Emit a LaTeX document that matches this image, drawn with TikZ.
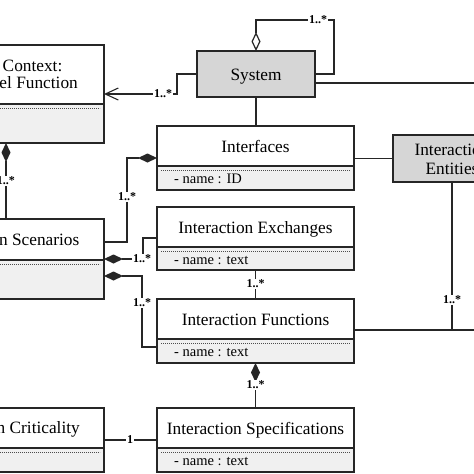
\documentclass[tikz,border=0pt]{standalone}
\usepackage{fontspec}
\setmainfont{Liberation Serif}
\usetikzlibrary{arrows.meta}
\begin{document}
\begin{tikzpicture}[x=1pt,y=-1pt,
  box/.style={draw=black!85, line width=1.3pt, inner sep=0pt, outer sep=0pt},
  ttl/.style={box, fill=white, font=\fontsize{17.3}{20}\selectfont, text height=13pt, text depth=1pt},
  attr/.style={box, fill=black!6},
  cls/.style={box, fill=black!16, font=\fontsize{17.3}{18.7}\selectfont, align=center},
  atxt/.style={font=\fontsize{14.5}{16}\selectfont, anchor=mid west, inner sep=0pt},
  ltxt/.style={font=\fontsize{17.3}{20}\selectfont, anchor=mid east, inner sep=0pt},
  mult/.style={font=\fontsize{12}{12}\selectfont\bfseries, fill=white, inner sep=1pt},
  conn/.style={draw=black!85, line width=1.2pt},
  dsh/.style={draw=black!70, line width=0.6pt, dash pattern=on 1.2pt off 0.8pt},
  compd/.tip={Diamond[length=19pt, width=9pt, fill=black!85]},
  aggd/.tip={Diamond[length=19pt, width=9pt, fill=white]},
  openv/.tip={Straight Barb[length=13pt, width=12pt, line width=1.1pt]}
]
\useasboundingbox (0,0) rectangle (474,474);
\clip (0,0) rectangle (474,474);

% --- classes ---
\node[ttl, minimum width=196pt, minimum height=59pt] (ctxT) at (6,74.5) {};
\node[attr, minimum width=196pt, minimum height=39pt] (ctxA) at (6,123.5) {};
\node[ltxt] (ctxL1) at (62.5,69) {Context:};
\node[ltxt] (ctxL2) at (78,86.5) {el Function};

\node[cls, minimum width=118pt, minimum height=46pt, text height=13pt, text depth=1pt] (sys) at (256,74) {System};
\node[cls, minimum width=118pt, minimum height=47pt] (ent) at (452,158.5) {\strut Interaction\\Entities};

\node[ttl, minimum width=197pt, minimum height=40pt] (ifcT) at (255.5,146) {Interfaces};
\node[attr, minimum width=197pt, minimum height=24pt] (ifcA) at (255.5,178) {};
\node[atxt] (ifcX) at (174,181.5) {- name : ID};

\node[ttl, minimum width=196pt, minimum height=41pt] (scnT) at (6,239.5) {};
\node[attr, minimum width=196pt, minimum height=39pt] (scnA) at (6,279.5) {};
\node[ltxt] (scnL) at (79.5,243) {n Scenarios};

\node[ttl, minimum width=197pt, minimum height=40pt] (excT) at (255.5,227) {Interaction Exchanges};
\node[attr, minimum width=197pt, minimum height=23pt] (excA) at (255.5,258.5) {};
\node[atxt] (excX) at (174,262) {- name : text};

\node[ttl, minimum width=197pt, minimum height=40pt] (funT) at (255.5,319) {Interaction Functions};
\node[attr, minimum width=197pt, minimum height=24pt] (funA) at (255.5,351) {};
\node[atxt] (funX) at (174,354.5) {- name : text};

\node[ttl, minimum width=196pt, minimum height=40pt] (critT) at (6,428) {};
\node[attr, minimum width=196pt, minimum height=24pt] (critA) at (6,460) {};
\node[ltxt] (critL) at (80,431.5) {n Criticality};

\node[ttl, minimum width=197pt, minimum height=40pt] (specT) at (255.5,428) {Interaction Specifications};
\node[attr, minimum width=197pt, minimum height=24pt] (specA) at (255.5,460) {};
\node[atxt] (specX) at (174,463.5) {- name : text};

% dashed separators
\foreach \b in {ctxA,ifcA,scnA,excA,funA,critA,specA}{
  \draw[dsh] ([xshift=4pt,yshift=-4pt]\b.north west) -- ([xshift=-4pt,yshift=-4pt]\b.north east);
}

% --- free ends ---
\coordinate (r1) at (480,83);
\coordinate (r2) at (480,330);

% --- connectors ---
\draw[conn, -openv] (sys.west) -- (177,74) |- ([yshift=-19.5pt]ctxT.east);
\draw[conn, aggd-] (sys.north) -- (256,20) -| (334,74) -- (sys.east);
\draw[conn] ([yshift=-9pt]sys.east) -- (r1);
\draw[conn] (sys.south) -- (sys.south |- ifcT.north);
\draw[conn] (ent.west) -- (ent.west -| ifcT.east);
\draw[conn, -compd] ([yshift=-2.5pt]scnT.east) -- (127,242) |- ([yshift=-12pt]ifcT.west);
\draw[conn, compd-] (ctxA.south) -- (scnT.north);
\draw[conn, compd-] ([yshift=1pt]scnA.north east) -- (143,259) |- ([yshift=-11pt]excT.west);
\draw[conn, compd-] ([yshift=-16pt]scnA.north east) -- (142,276) |- ([yshift=4pt]funA.west);
\draw[conn] (excA.south) -- (funT.north);
\draw[conn] ([yshift=-11pt]funT.east) -- (r2);
\draw[conn] (ent.south) -- (ent.south |- r2);
\draw[conn, compd-] (funA.south) -- (specT.north);
\draw[conn] ([yshift=-12pt]critT.east) -- ([yshift=-12pt]specT.west);

% --- multiplicities ---
\node[mult] (m1) at (163,94) {1..*};
\node[mult] (m2) at (318,20) {1..*};
\node[mult] (m3) at (127,197) {1..*};
\node[mult] (m4) at (6,181) {1..*};
\node[mult] (m5) at (142,259) {1..*};
\node[mult] (m6) at (142,303) {1..*};
\node[mult] (m7) at (255.5,284) {1..*};
\node[mult] (m8) at (452,300) {1..*};
\node[mult] (m9) at (255.5,385) {1..*};
\node[mult] (m10) at (130,440) {1};
\end{tikzpicture}
\end{document}
